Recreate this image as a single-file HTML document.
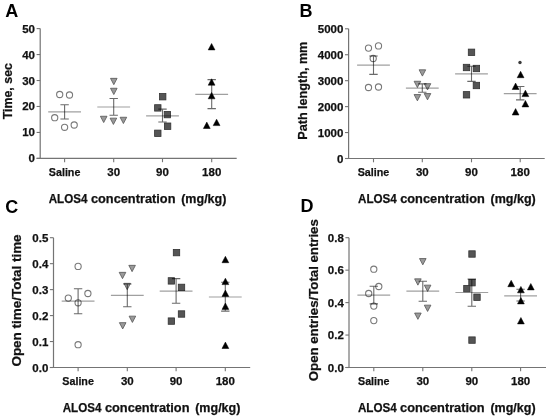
<!DOCTYPE html>
<html><head><meta charset="utf-8"><style>
html,body{margin:0;padding:0;background:#fff;}
svg{display:block;will-change:transform;}
text{font-family:"Liberation Sans", sans-serif;font-weight:bold;fill:#111;stroke:#111;stroke-width:0.25px;}
.t{font-size:11.5px;}
.yl{font-size:12.5px;}
.ti{font-size:12.4px;}
.le{font-size:18px;fill:#000;stroke:none;}
</style></head><body>
<svg width="550" height="418" viewBox="0 0 550 418">
<rect width="550" height="418" fill="#fff"/>
<path d="M40.2 28.6V158.4 M36.6 158.4H236.7" stroke="#747474" stroke-width="1.2" fill="none"/>
<path d="M36.6 28.6H40.2" stroke="#747474" stroke-width="1.1"/>
<text x="35" y="32.6" text-anchor="end" class="t">50</text>
<path d="M36.6 54.56H40.2" stroke="#747474" stroke-width="1.1"/>
<text x="35" y="58.56" text-anchor="end" class="t">40</text>
<path d="M36.6 80.52H40.2" stroke="#747474" stroke-width="1.1"/>
<text x="35" y="84.52" text-anchor="end" class="t">30</text>
<path d="M36.6 106.48H40.2" stroke="#747474" stroke-width="1.1"/>
<text x="35" y="110.48" text-anchor="end" class="t">20</text>
<path d="M36.6 132.44H40.2" stroke="#747474" stroke-width="1.1"/>
<text x="35" y="136.44" text-anchor="end" class="t">10</text>
<path d="M36.6 158.4H40.2" stroke="#747474" stroke-width="1.1"/>
<text x="35" y="162.4" text-anchor="end" class="t">0</text>
<path d="M64.6 158.4V162.2" stroke="#747474" stroke-width="1.1"/>
<text x="64.6" y="175.8" text-anchor="middle" class="t" textLength="31.6" lengthAdjust="spacingAndGlyphs">Saline</text>
<path d="M113.7 158.4V162.2" stroke="#747474" stroke-width="1.1"/>
<text x="113.7" y="175.8" text-anchor="middle" class="t">30</text>
<path d="M162.5 158.4V162.2" stroke="#747474" stroke-width="1.1"/>
<text x="162.5" y="175.8" text-anchor="middle" class="t">90</text>
<path d="M211.7 158.4V162.2" stroke="#747474" stroke-width="1.1"/>
<text x="211.7" y="175.8" text-anchor="middle" class="t">180</text>
<circle cx="59.7" cy="94.5" r="3.1" fill="#fff" stroke="#7a7a7a" stroke-width="1.1"/>
<circle cx="69.5" cy="95" r="3.1" fill="#fff" stroke="#7a7a7a" stroke-width="1.1"/>
<circle cx="54.7" cy="117.7" r="3.1" fill="#fff" stroke="#7a7a7a" stroke-width="1.1"/>
<circle cx="64.6" cy="127.3" r="3.1" fill="#fff" stroke="#7a7a7a" stroke-width="1.1"/>
<circle cx="74.2" cy="125" r="3.1" fill="#fff" stroke="#7a7a7a" stroke-width="1.1"/>
<path d="M48.2 111.9H81" stroke="#a0a0a0" stroke-width="1.2" style="mix-blend-mode:multiply"/>
<path d="M64.6 104.7V119 M60.4 104.7H68.8 M60.4 119H68.8" stroke="#6a6a6a" stroke-width="1.1" fill="none" style="mix-blend-mode:multiply"/>
<polygon points="110.5,78.35 117.1,78.35 113.8,84.65" fill="#9a9a9a" stroke="#555" stroke-width="0.8" stroke-linejoin="round"/>
<polygon points="110.5,88.25 117.1,88.25 113.8,94.55" fill="#9a9a9a" stroke="#555" stroke-width="0.8" stroke-linejoin="round"/>
<polygon points="100.4,116.25 107,116.25 103.7,122.55" fill="#9a9a9a" stroke="#555" stroke-width="0.8" stroke-linejoin="round"/>
<polygon points="110.1,118.15 116.7,118.15 113.4,124.45" fill="#9a9a9a" stroke="#555" stroke-width="0.8" stroke-linejoin="round"/>
<polygon points="120.1,117.25 126.7,117.25 123.4,123.55" fill="#9a9a9a" stroke="#555" stroke-width="0.8" stroke-linejoin="round"/>
<path d="M97.3 107H130.1" stroke="#a0a0a0" stroke-width="1.2" style="mix-blend-mode:multiply"/>
<path d="M113.7 98.5V115.3 M109.5 98.5H117.9 M109.5 115.3H117.9" stroke="#6a6a6a" stroke-width="1.1" fill="none" style="mix-blend-mode:multiply"/>
<rect x="159.5" y="93.5" width="6.4" height="6.4" fill="#555" stroke="#333" stroke-width="0.8"/>
<rect x="154.6" y="104.7" width="6.4" height="6.4" fill="#555" stroke="#333" stroke-width="0.8"/>
<rect x="164.2" y="111.4" width="6.4" height="6.4" fill="#555" stroke="#333" stroke-width="0.8"/>
<rect x="164.4" y="123" width="6.4" height="6.4" fill="#555" stroke="#333" stroke-width="0.8"/>
<rect x="154.6" y="130.1" width="6.4" height="6.4" fill="#555" stroke="#333" stroke-width="0.8"/>
<path d="M146.1 115.8H178.9" stroke="#a0a0a0" stroke-width="1.2" style="mix-blend-mode:multiply"/>
<path d="M162.5 109.1V122 M158.3 109.1H166.7 M158.3 122H166.7" stroke="#6a6a6a" stroke-width="1.1" fill="none" style="mix-blend-mode:multiply"/>
<polygon points="211.6,43.5 215,49.9 208.2,49.9" fill="#000" stroke="#000" stroke-width="0.5" stroke-linejoin="round"/>
<polygon points="211.6,78.8 215,85.2 208.2,85.2" fill="#000" stroke="#000" stroke-width="0.5" stroke-linejoin="round"/>
<polygon points="211.6,92.4 215,98.8 208.2,98.8" fill="#000" stroke="#000" stroke-width="0.5" stroke-linejoin="round"/>
<polygon points="206.8,122.1 210.2,128.5 203.4,128.5" fill="#000" stroke="#000" stroke-width="0.5" stroke-linejoin="round"/>
<polygon points="216.6,119.2 220,125.6 213.2,125.6" fill="#000" stroke="#000" stroke-width="0.5" stroke-linejoin="round"/>
<path d="M195.3 94.3H228.1" stroke="#a0a0a0" stroke-width="1.2" style="mix-blend-mode:multiply"/>
<path d="M211.7 79.6V108.6 M207.5 79.6H215.9 M207.5 108.6H215.9" stroke="#6a6a6a" stroke-width="1.1" fill="none" style="mix-blend-mode:multiply"/>
<text transform="translate(12 91.2) rotate(-90)" text-anchor="middle" class="yl" textLength="56.3" lengthAdjust="spacingAndGlyphs">Time, sec</text>
<text x="48.7" y="203.3" class="ti" textLength="38.8" lengthAdjust="spacingAndGlyphs">ALOS4</text>
<text x="90.9" y="203.3" class="ti" textLength="84.6" lengthAdjust="spacingAndGlyphs">concentration</text>
<text x="181.2" y="203.3" class="ti" textLength="45.2" lengthAdjust="spacingAndGlyphs">(mg/kg)</text>
<text x="5.3" y="17.4" class="le">A</text>
<path d="M348.6 28.8V158.5 M345 158.5H544.7" stroke="#747474" stroke-width="1.2" fill="none"/>
<path d="M345 28.8H348.6" stroke="#747474" stroke-width="1.1"/>
<text x="343.4" y="32.8" text-anchor="end" class="t">5000</text>
<path d="M345 54.74H348.6" stroke="#747474" stroke-width="1.1"/>
<text x="343.4" y="58.74" text-anchor="end" class="t">4000</text>
<path d="M345 80.68H348.6" stroke="#747474" stroke-width="1.1"/>
<text x="343.4" y="84.68" text-anchor="end" class="t">3000</text>
<path d="M345 106.62H348.6" stroke="#747474" stroke-width="1.1"/>
<text x="343.4" y="110.62" text-anchor="end" class="t">2000</text>
<path d="M345 132.56H348.6" stroke="#747474" stroke-width="1.1"/>
<text x="343.4" y="136.56" text-anchor="end" class="t">1000</text>
<path d="M345 158.5H348.6" stroke="#747474" stroke-width="1.1"/>
<text x="343.4" y="162.5" text-anchor="end" class="t">0</text>
<path d="M373.5 158.5V162.3" stroke="#747474" stroke-width="1.1"/>
<text x="373.5" y="175.9" text-anchor="middle" class="t" textLength="31.6" lengthAdjust="spacingAndGlyphs">Saline</text>
<path d="M422.3 158.5V162.3" stroke="#747474" stroke-width="1.1"/>
<text x="422.3" y="175.9" text-anchor="middle" class="t">30</text>
<path d="M471.5 158.5V162.3" stroke="#747474" stroke-width="1.1"/>
<text x="471.5" y="175.9" text-anchor="middle" class="t">90</text>
<path d="M520.2 158.5V162.3" stroke="#747474" stroke-width="1.1"/>
<text x="520.2" y="175.9" text-anchor="middle" class="t">180</text>
<circle cx="368.5" cy="48.1" r="3.1" fill="#fff" stroke="#7a7a7a" stroke-width="1.1"/>
<circle cx="378.5" cy="45.9" r="3.1" fill="#fff" stroke="#7a7a7a" stroke-width="1.1"/>
<circle cx="373.2" cy="58.5" r="3.1" fill="#fff" stroke="#7a7a7a" stroke-width="1.1"/>
<circle cx="368.5" cy="87.5" r="3.1" fill="#fff" stroke="#7a7a7a" stroke-width="1.1"/>
<circle cx="378.5" cy="87" r="3.1" fill="#fff" stroke="#7a7a7a" stroke-width="1.1"/>
<path d="M357.1 65.2H389.9" stroke="#a0a0a0" stroke-width="1.2" style="mix-blend-mode:multiply"/>
<path d="M373.5 56V74.4 M369.3 56H377.7 M369.3 74.4H377.7" stroke="#6a6a6a" stroke-width="1.1" fill="none" style="mix-blend-mode:multiply"/>
<polygon points="419.1,69.8 425.7,69.8 422.4,76.1" fill="#9a9a9a" stroke="#555" stroke-width="0.8" stroke-linejoin="round"/>
<polygon points="414.1,81.25 420.7,81.25 417.4,87.55" fill="#9a9a9a" stroke="#555" stroke-width="0.8" stroke-linejoin="round"/>
<polygon points="424.2,83.65 430.8,83.65 427.5,89.95" fill="#9a9a9a" stroke="#555" stroke-width="0.8" stroke-linejoin="round"/>
<polygon points="414.1,94.55 420.7,94.55 417.4,100.85" fill="#9a9a9a" stroke="#555" stroke-width="0.8" stroke-linejoin="round"/>
<polygon points="424.2,93.55 430.8,93.55 427.5,99.85" fill="#9a9a9a" stroke="#555" stroke-width="0.8" stroke-linejoin="round"/>
<path d="M405.9 88.1H438.7" stroke="#a0a0a0" stroke-width="1.2" style="mix-blend-mode:multiply"/>
<path d="M422.3 83.9V92.3 M418.1 83.9H426.5 M418.1 92.3H426.5" stroke="#6a6a6a" stroke-width="1.1" fill="none" style="mix-blend-mode:multiply"/>
<rect x="468.3" y="49.1" width="6.4" height="6.4" fill="#555" stroke="#333" stroke-width="0.8"/>
<rect x="463.3" y="64.3" width="6.4" height="6.4" fill="#555" stroke="#333" stroke-width="0.8"/>
<rect x="473.2" y="65.3" width="6.4" height="6.4" fill="#555" stroke="#333" stroke-width="0.8"/>
<rect x="473.2" y="82.3" width="6.4" height="6.4" fill="#555" stroke="#333" stroke-width="0.8"/>
<rect x="463.3" y="91.6" width="6.4" height="6.4" fill="#555" stroke="#333" stroke-width="0.8"/>
<path d="M455.1 73.8H487.9" stroke="#a0a0a0" stroke-width="1.2" style="mix-blend-mode:multiply"/>
<path d="M471.5 66.3V81.4 M467.3 66.3H475.7 M467.3 81.4H475.7" stroke="#6a6a6a" stroke-width="1.1" fill="none" style="mix-blend-mode:multiply"/>
<polygon points="520.6,71.3 524,77.7 517.2,77.7" fill="#000" stroke="#000" stroke-width="0.5" stroke-linejoin="round"/>
<polygon points="515.6,83.1 519,89.5 512.2,89.5" fill="#000" stroke="#000" stroke-width="0.5" stroke-linejoin="round"/>
<polygon points="525.4,90.2 528.8,96.6 522,96.6" fill="#000" stroke="#000" stroke-width="0.5" stroke-linejoin="round"/>
<polygon points="525.4,100.5 528.8,106.9 522,106.9" fill="#000" stroke="#000" stroke-width="0.5" stroke-linejoin="round"/>
<polygon points="515.6,108.6 519,115 512.2,115" fill="#000" stroke="#000" stroke-width="0.5" stroke-linejoin="round"/>
<path d="M503.8 93.6H536.6" stroke="#a0a0a0" stroke-width="1.2" style="mix-blend-mode:multiply"/>
<path d="M520.2 86.5V99.9 M516 86.5H524.4 M516 99.9H524.4" stroke="#6a6a6a" stroke-width="1.1" fill="none" style="mix-blend-mode:multiply"/>
<text transform="translate(307.2 90.7) rotate(-90)" text-anchor="middle" class="yl" textLength="98" lengthAdjust="spacingAndGlyphs">Path length, mm</text>
<text x="358" y="203.4" class="ti" textLength="38.8" lengthAdjust="spacingAndGlyphs">ALOS4</text>
<text x="400.2" y="203.4" class="ti" textLength="84.6" lengthAdjust="spacingAndGlyphs">concentration</text>
<text x="490.5" y="203.4" class="ti" textLength="45.2" lengthAdjust="spacingAndGlyphs">(mg/kg)</text>
<text x="299.6" y="16.8" class="le">B</text>
<path d="M53.5 237.7V367.5 M49.9 367.5H250.2" stroke="#747474" stroke-width="1.2" fill="none"/>
<path d="M49.9 237.7H53.5" stroke="#747474" stroke-width="1.1"/>
<text x="48.3" y="241.7" text-anchor="end" class="t">0.5</text>
<path d="M49.9 263.66H53.5" stroke="#747474" stroke-width="1.1"/>
<text x="48.3" y="267.66" text-anchor="end" class="t">0.4</text>
<path d="M49.9 289.62H53.5" stroke="#747474" stroke-width="1.1"/>
<text x="48.3" y="293.62" text-anchor="end" class="t">0.3</text>
<path d="M49.9 315.58H53.5" stroke="#747474" stroke-width="1.1"/>
<text x="48.3" y="319.58" text-anchor="end" class="t">0.2</text>
<path d="M49.9 341.54H53.5" stroke="#747474" stroke-width="1.1"/>
<text x="48.3" y="345.54" text-anchor="end" class="t">0.1</text>
<path d="M49.9 367.5H53.5" stroke="#747474" stroke-width="1.1"/>
<text x="48.3" y="371.5" text-anchor="end" class="t">0.0</text>
<path d="M78.1 367.5V371.3" stroke="#747474" stroke-width="1.1"/>
<text x="78.1" y="384.9" text-anchor="middle" class="t" textLength="31.6" lengthAdjust="spacingAndGlyphs">Saline</text>
<path d="M127.3 367.5V371.3" stroke="#747474" stroke-width="1.1"/>
<text x="127.3" y="384.9" text-anchor="middle" class="t">30</text>
<path d="M176.1 367.5V371.3" stroke="#747474" stroke-width="1.1"/>
<text x="176.1" y="384.9" text-anchor="middle" class="t">90</text>
<path d="M225.3 367.5V371.3" stroke="#747474" stroke-width="1.1"/>
<text x="225.3" y="384.9" text-anchor="middle" class="t">180</text>
<circle cx="78.1" cy="266.4" r="3.1" fill="#fff" stroke="#7a7a7a" stroke-width="1.1"/>
<circle cx="87.9" cy="293.5" r="3.1" fill="#fff" stroke="#7a7a7a" stroke-width="1.1"/>
<circle cx="68.3" cy="298.1" r="3.1" fill="#fff" stroke="#7a7a7a" stroke-width="1.1"/>
<circle cx="78.1" cy="302.8" r="3.1" fill="#fff" stroke="#7a7a7a" stroke-width="1.1"/>
<circle cx="78.1" cy="344.7" r="3.1" fill="#fff" stroke="#7a7a7a" stroke-width="1.1"/>
<path d="M61.7 301.1H94.5" stroke="#a0a0a0" stroke-width="1.2" style="mix-blend-mode:multiply"/>
<path d="M78.1 288.7V313.7 M73.9 288.7H82.3 M73.9 313.7H82.3" stroke="#6a6a6a" stroke-width="1.1" fill="none" style="mix-blend-mode:multiply"/>
<polygon points="128.8,265.35 135.4,265.35 132.1,271.65" fill="#9a9a9a" stroke="#555" stroke-width="0.8" stroke-linejoin="round"/>
<polygon points="119.2,272.35 125.8,272.35 122.5,278.65" fill="#9a9a9a" stroke="#555" stroke-width="0.8" stroke-linejoin="round"/>
<polygon points="123.9,283.35 130.5,283.35 127.2,289.65" fill="#9a9a9a" stroke="#555" stroke-width="0.8" stroke-linejoin="round"/>
<polygon points="129.1,316.15 135.7,316.15 132.4,322.45" fill="#9a9a9a" stroke="#555" stroke-width="0.8" stroke-linejoin="round"/>
<polygon points="119.4,322.65 126,322.65 122.7,328.95" fill="#9a9a9a" stroke="#555" stroke-width="0.8" stroke-linejoin="round"/>
<path d="M110.9 295.4H143.7" stroke="#a0a0a0" stroke-width="1.2" style="mix-blend-mode:multiply"/>
<path d="M127.3 284V306.8 M123.1 284H131.5 M123.1 306.8H131.5" stroke="#6a6a6a" stroke-width="1.1" fill="none" style="mix-blend-mode:multiply"/>
<rect x="173.3" y="249.4" width="6.4" height="6.4" fill="#555" stroke="#333" stroke-width="0.8"/>
<rect x="168.2" y="277.7" width="6.4" height="6.4" fill="#555" stroke="#333" stroke-width="0.8"/>
<rect x="178.3" y="284.2" width="6.4" height="6.4" fill="#555" stroke="#333" stroke-width="0.8"/>
<rect x="178.3" y="310.8" width="6.4" height="6.4" fill="#555" stroke="#333" stroke-width="0.8"/>
<rect x="168.2" y="317.9" width="6.4" height="6.4" fill="#555" stroke="#333" stroke-width="0.8"/>
<path d="M159.7 291.1H192.5" stroke="#a0a0a0" stroke-width="1.2" style="mix-blend-mode:multiply"/>
<path d="M176.1 278.6V303.3 M171.9 278.6H180.3 M171.9 303.3H180.3" stroke="#6a6a6a" stroke-width="1.1" fill="none" style="mix-blend-mode:multiply"/>
<polygon points="225.4,256.3 228.8,262.7 222,262.7" fill="#000" stroke="#000" stroke-width="0.5" stroke-linejoin="round"/>
<polygon points="225.4,278.2 228.8,284.6 222,284.6" fill="#000" stroke="#000" stroke-width="0.5" stroke-linejoin="round"/>
<polygon points="225.4,290.1 228.8,296.5 222,296.5" fill="#000" stroke="#000" stroke-width="0.5" stroke-linejoin="round"/>
<polygon points="225.4,303 228.8,309.4 222,309.4" fill="#000" stroke="#000" stroke-width="0.5" stroke-linejoin="round"/>
<polygon points="225.4,342.1 228.8,348.5 222,348.5" fill="#000" stroke="#000" stroke-width="0.5" stroke-linejoin="round"/>
<path d="M208.9 297H241.7" stroke="#a0a0a0" stroke-width="1.2" style="mix-blend-mode:multiply"/>
<path d="M225.3 282.3V311.1 M221.1 282.3H229.5 M221.1 311.1H229.5" stroke="#6a6a6a" stroke-width="1.1" fill="none" style="mix-blend-mode:multiply"/>
<text transform="translate(21 300.5) rotate(-90)" text-anchor="middle" class="yl" textLength="132.2" lengthAdjust="spacingAndGlyphs">Open time/Total time</text>
<text x="62.7" y="412" class="ti" textLength="38.8" lengthAdjust="spacingAndGlyphs">ALOS4</text>
<text x="104.9" y="412" class="ti" textLength="84.6" lengthAdjust="spacingAndGlyphs">concentration</text>
<text x="195.2" y="412" class="ti" textLength="45.2" lengthAdjust="spacingAndGlyphs">(mg/kg)</text>
<text x="5.3" y="212.5" class="le">C</text>
<path d="M349 237.7V367.5 M345.4 367.5H546" stroke="#747474" stroke-width="1.2" fill="none"/>
<path d="M345.4 237.7H349" stroke="#747474" stroke-width="1.1"/>
<text x="343.8" y="241.7" text-anchor="end" class="t">0.8</text>
<path d="M345.4 270.15H349" stroke="#747474" stroke-width="1.1"/>
<text x="343.8" y="274.15" text-anchor="end" class="t">0.6</text>
<path d="M345.4 302.6H349" stroke="#747474" stroke-width="1.1"/>
<text x="343.8" y="306.6" text-anchor="end" class="t">0.4</text>
<path d="M345.4 335.05H349" stroke="#747474" stroke-width="1.1"/>
<text x="343.8" y="339.05" text-anchor="end" class="t">0.2</text>
<path d="M345.4 367.5H349" stroke="#747474" stroke-width="1.1"/>
<text x="343.8" y="371.5" text-anchor="end" class="t">0.0</text>
<path d="M373.8 367.5V371.3" stroke="#747474" stroke-width="1.1"/>
<text x="373.8" y="384.9" text-anchor="middle" class="t" textLength="31.6" lengthAdjust="spacingAndGlyphs">Saline</text>
<path d="M422.8 367.5V371.3" stroke="#747474" stroke-width="1.1"/>
<text x="422.8" y="384.9" text-anchor="middle" class="t">30</text>
<path d="M471.8 367.5V371.3" stroke="#747474" stroke-width="1.1"/>
<text x="471.8" y="384.9" text-anchor="middle" class="t">90</text>
<path d="M520.6 367.5V371.3" stroke="#747474" stroke-width="1.1"/>
<text x="520.6" y="384.9" text-anchor="middle" class="t">180</text>
<circle cx="373.8" cy="269.2" r="3.1" fill="#fff" stroke="#7a7a7a" stroke-width="1.1"/>
<circle cx="378.8" cy="286.5" r="3.1" fill="#fff" stroke="#7a7a7a" stroke-width="1.1"/>
<circle cx="368.7" cy="293.5" r="3.1" fill="#fff" stroke="#7a7a7a" stroke-width="1.1"/>
<circle cx="373.8" cy="306.1" r="3.1" fill="#fff" stroke="#7a7a7a" stroke-width="1.1"/>
<circle cx="373.8" cy="320.6" r="3.1" fill="#fff" stroke="#7a7a7a" stroke-width="1.1"/>
<path d="M357.4 295.2H390.2" stroke="#a0a0a0" stroke-width="1.2" style="mix-blend-mode:multiply"/>
<path d="M373.8 286.3V303.9 M369.6 286.3H378 M369.6 303.9H378" stroke="#6a6a6a" stroke-width="1.1" fill="none" style="mix-blend-mode:multiply"/>
<polygon points="419.5,258.55 426.1,258.55 422.8,264.85" fill="#9a9a9a" stroke="#555" stroke-width="0.8" stroke-linejoin="round"/>
<polygon points="414.6,278.85 421.2,278.85 417.9,285.15" fill="#9a9a9a" stroke="#555" stroke-width="0.8" stroke-linejoin="round"/>
<polygon points="424.3,285.15 430.9,285.15 427.6,291.45" fill="#9a9a9a" stroke="#555" stroke-width="0.8" stroke-linejoin="round"/>
<polygon points="424.3,305.15 430.9,305.15 427.6,311.45" fill="#9a9a9a" stroke="#555" stroke-width="0.8" stroke-linejoin="round"/>
<polygon points="414.6,313.05 421.2,313.05 417.9,319.35" fill="#9a9a9a" stroke="#555" stroke-width="0.8" stroke-linejoin="round"/>
<path d="M406.4 291.1H439.2" stroke="#a0a0a0" stroke-width="1.2" style="mix-blend-mode:multiply"/>
<path d="M422.8 281.2V301.3 M418.6 281.2H427 M418.6 301.3H427" stroke="#6a6a6a" stroke-width="1.1" fill="none" style="mix-blend-mode:multiply"/>
<rect x="468.8" y="250.8" width="6.4" height="6.4" fill="#555" stroke="#333" stroke-width="0.8"/>
<rect x="468.8" y="279.5" width="6.4" height="6.4" fill="#555" stroke="#333" stroke-width="0.8"/>
<rect x="463.7" y="285.4" width="6.4" height="6.4" fill="#555" stroke="#333" stroke-width="0.8"/>
<rect x="473.8" y="294" width="6.4" height="6.4" fill="#555" stroke="#333" stroke-width="0.8"/>
<rect x="468.8" y="336.9" width="6.4" height="6.4" fill="#555" stroke="#333" stroke-width="0.8"/>
<path d="M455.4 292.5H488.2" stroke="#a0a0a0" stroke-width="1.2" style="mix-blend-mode:multiply"/>
<path d="M471.8 279.1V306.3 M467.6 279.1H476 M467.6 306.3H476" stroke="#6a6a6a" stroke-width="1.1" fill="none" style="mix-blend-mode:multiply"/>
<polygon points="511.2,280.3 514.6,286.7 507.8,286.7" fill="#000" stroke="#000" stroke-width="0.5" stroke-linejoin="round"/>
<polygon points="530.8,283.5 534.2,289.9 527.4,289.9" fill="#000" stroke="#000" stroke-width="0.5" stroke-linejoin="round"/>
<polygon points="520.9,286.4 524.3,292.8 517.5,292.8" fill="#000" stroke="#000" stroke-width="0.5" stroke-linejoin="round"/>
<polygon points="520.9,297.5 524.3,303.9 517.5,303.9" fill="#000" stroke="#000" stroke-width="0.5" stroke-linejoin="round"/>
<polygon points="520.9,317.5 524.3,323.9 517.5,323.9" fill="#000" stroke="#000" stroke-width="0.5" stroke-linejoin="round"/>
<path d="M504.2 295.8H537" stroke="#a0a0a0" stroke-width="1.2" style="mix-blend-mode:multiply"/>
<path d="M520.6 289.2V301 M516.4 289.2H524.8 M516.4 301H524.8" stroke="#6a6a6a" stroke-width="1.1" fill="none" style="mix-blend-mode:multiply"/>
<text transform="translate(317.6 300.2) rotate(-90)" text-anchor="middle" class="yl" textLength="162" lengthAdjust="spacingAndGlyphs">Open entries/Total entries</text>
<text x="357.9" y="412.2" class="ti" textLength="38.8" lengthAdjust="spacingAndGlyphs">ALOS4</text>
<text x="400.1" y="412.2" class="ti" textLength="84.6" lengthAdjust="spacingAndGlyphs">concentration</text>
<text x="490.4" y="412.2" class="ti" textLength="45.2" lengthAdjust="spacingAndGlyphs">(mg/kg)</text>
<text x="300.4" y="212.3" class="le">D</text>
<circle cx="520" cy="62.5" r="1.7" fill="#3a3a3a"/>
</svg>
</body></html>
